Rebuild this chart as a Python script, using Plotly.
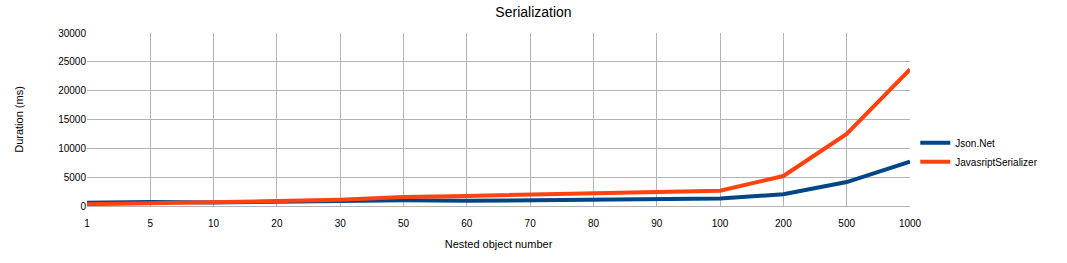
import plotly.graph_objects as go

categories = ["1", "5", "10", "20", "30", "50", "60", "70", "80", "90", "100", "200", "500", "1000"]
json_net = [550, 700, 620, 700, 750, 1000, 900, 980, 1000, 1150, 1300, 2050, 4150, 7700]
js_serializer = [300, 480, 520, 850, 1100, 1550, 1750, 1980, 2180, 2480, 2650, 5200, 12500, 23700]

font = "Liberation Sans, Arial, sans-serif"
fig = go.Figure()
fig.add_trace(go.Scatter(x=categories, y=json_net, mode="lines", name="Json.Net",
                         line=dict(color="#004586", width=4)))
fig.add_trace(go.Scatter(x=categories, y=js_serializer, mode="lines", name="JavasriptSerializer",
                         line=dict(color="#ff420e", width=4)))

fig.update_layout(
    width=1067, height=263,
    margin=dict(l=87, r=157, t=33, b=57),
    paper_bgcolor="white", plot_bgcolor="white",
    font=dict(family=font, size=10, color="black"),
    title=dict(text="Serialization", x=0.5, xanchor="center", y=0.955, yanchor="middle",
               font=dict(size=14, family=font)),
    showlegend=True,
    legend=dict(x=1.0064, xanchor="left", y=0.31, yanchor="middle",
                font=dict(size=10, family=font), itemwidth=30, tracegroupgap=0),
    xaxis=dict(type="category", range=[0, 13], showgrid=True, gridcolor="#b3b3b3",
               gridwidth=1, showline=False, ticks="outside", ticklen=8,
               tickcolor="rgba(0,0,0,0)", tickfont=dict(size=10),
               title=dict(text="Nested object number", font=dict(size=11), standoff=12),
               zeroline=False),
    yaxis=dict(range=[0, 30000], dtick=5000, showgrid=True, gridcolor="#b3b3b3",
               gridwidth=1, ticks="", tickformat="d", tickfont=dict(size=10),
               title=dict(text="Duration (ms)", font=dict(size=11), standoff=32),
               zeroline=True, zerolinecolor="#b3b3b3", zerolinewidth=1),
)

fig.write_html("out.html")
